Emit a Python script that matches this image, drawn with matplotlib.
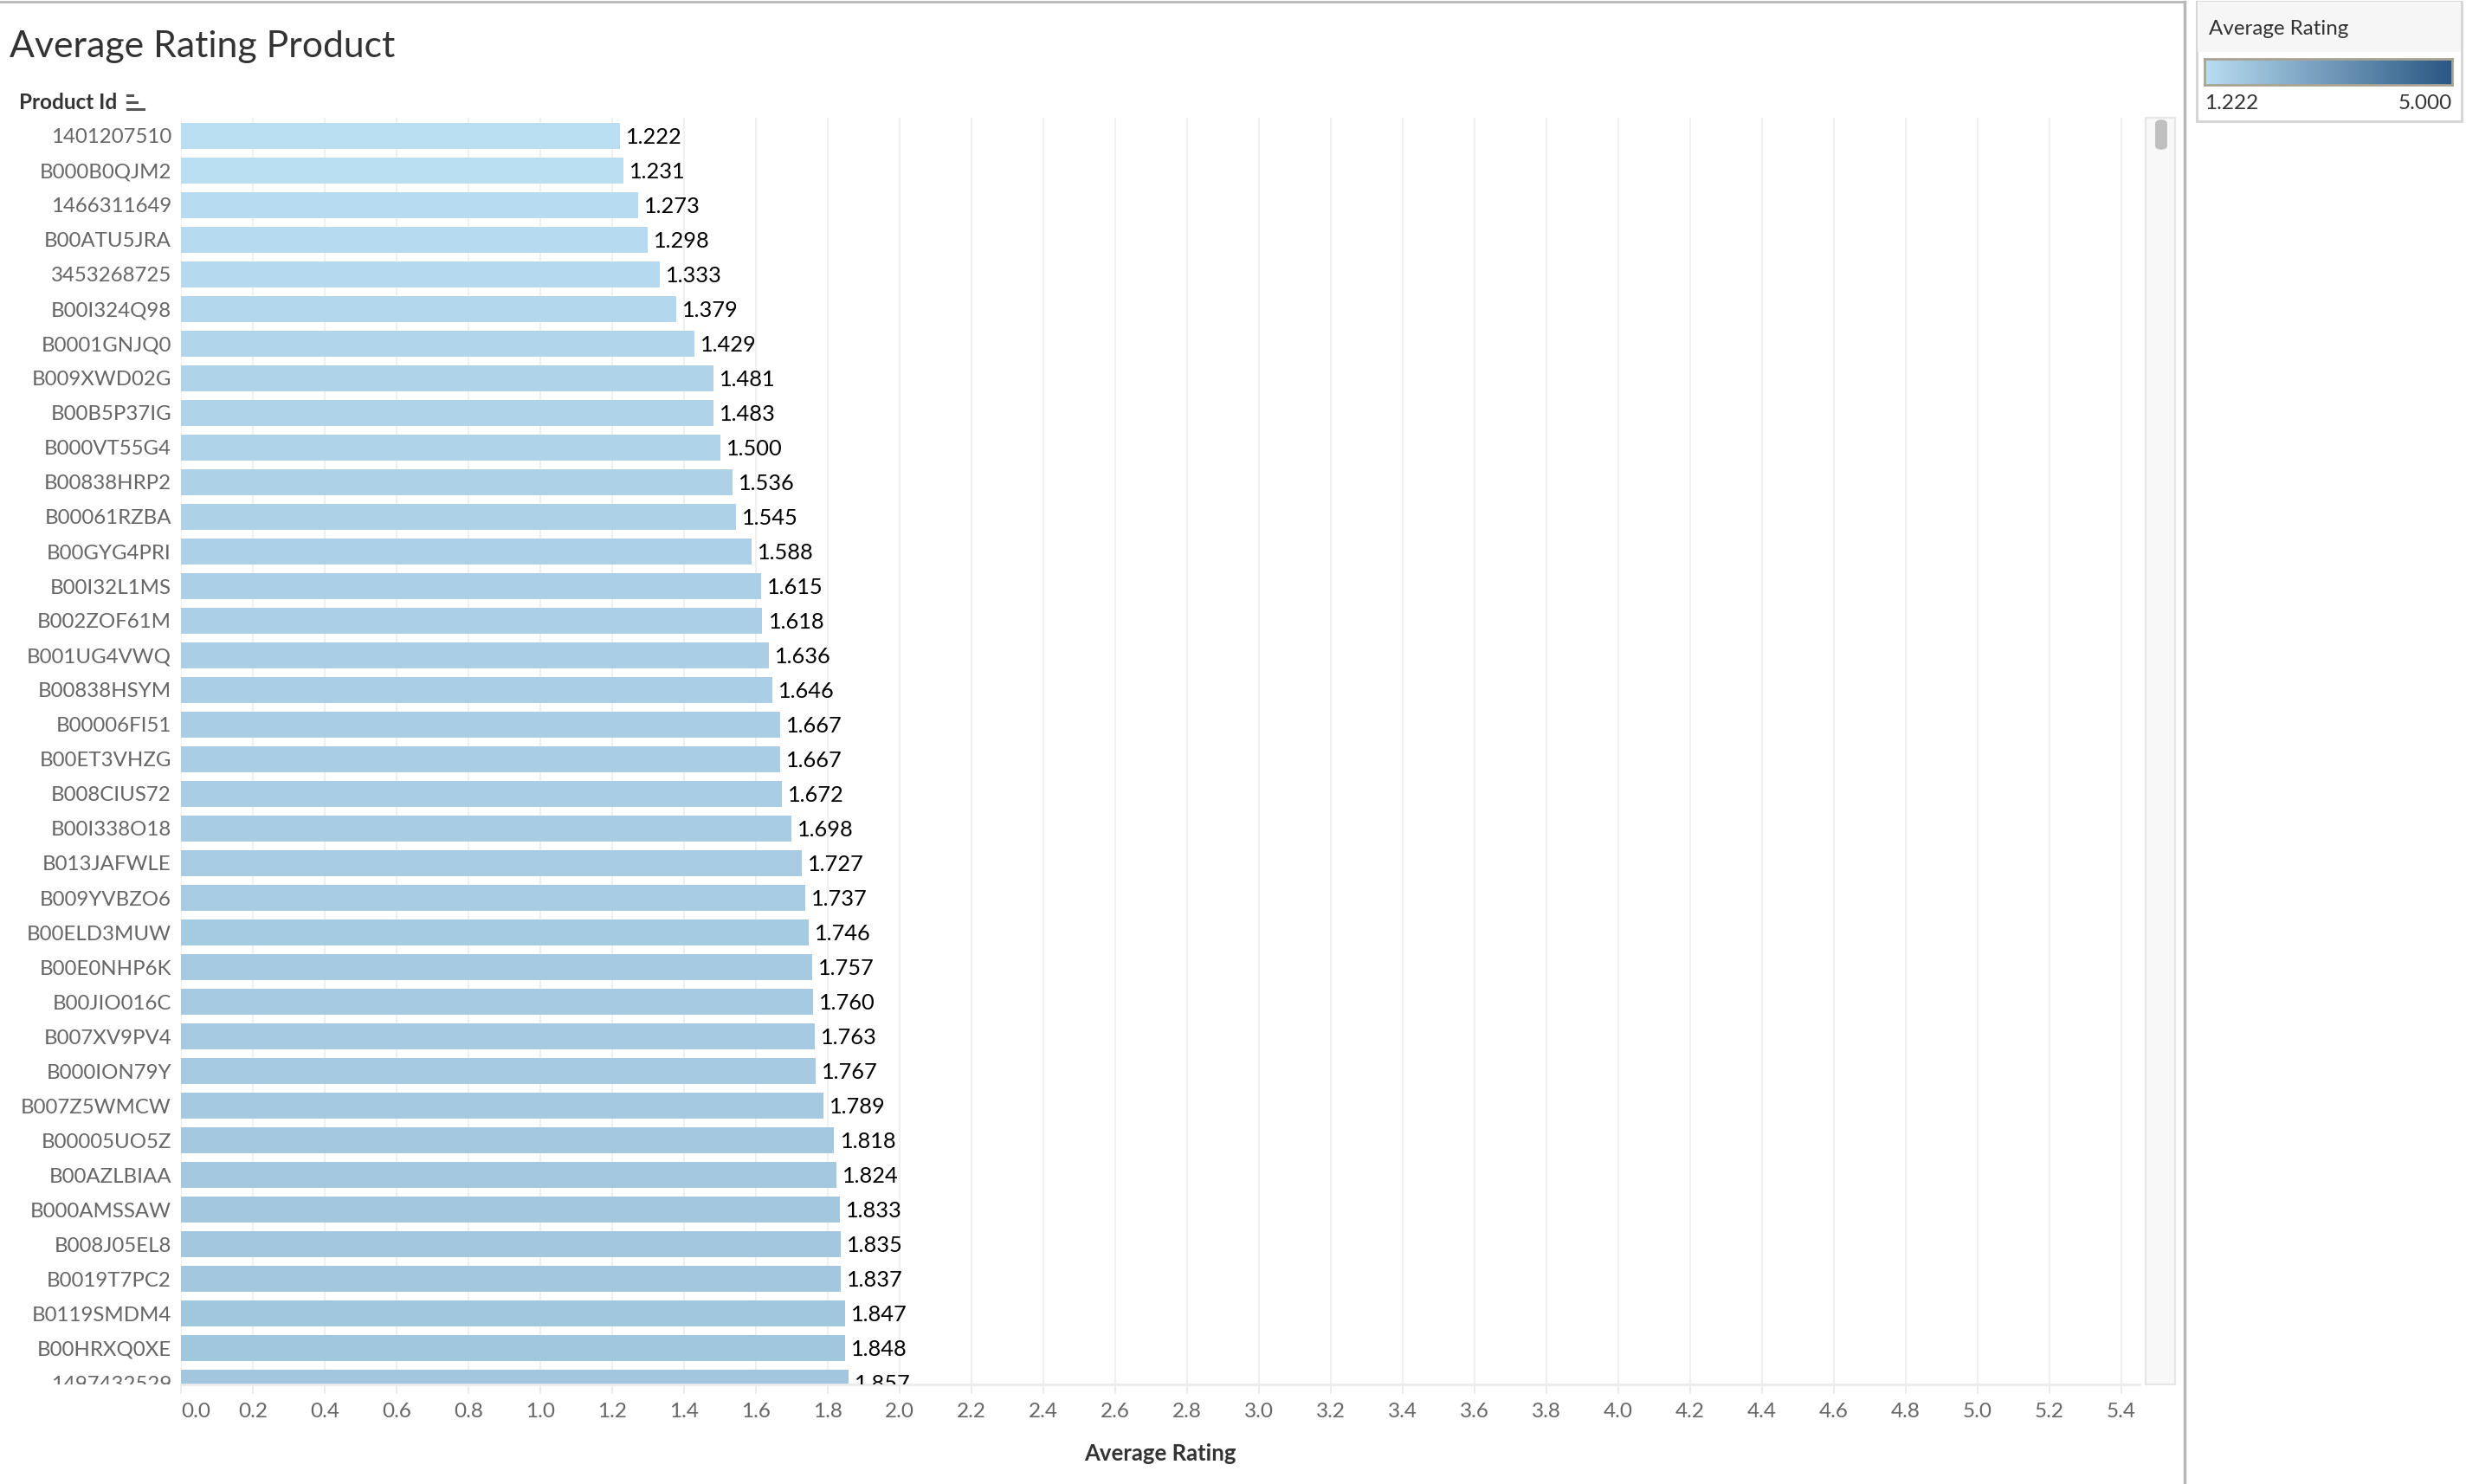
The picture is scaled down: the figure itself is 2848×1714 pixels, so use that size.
import numpy as np
import matplotlib
matplotlib.use("Agg")
import matplotlib.pyplot as plt
from matplotlib.colors import LinearSegmentedColormap, Normalize
from matplotlib.patches import Rectangle, FancyBboxPatch
from matplotlib.lines import Line2D
from matplotlib.transforms import Bbox, TransformedBbox

plt.rcParams['font.family'] = ['Lato', 'DejaVu Sans']

# data (sorted ascending by rating)
product_ids = ['1401207510', 'B000B0QJM2', '1466311649', 'B00ATU5JRA', '3453268725',
               'B00I324Q98', 'B0001GNJQ0', 'B009XWD02G', 'B00B5P37IG', 'B000VT55G4',
               'B00838HRP2', 'B00061RZBA', 'B00GYG4PRI', 'B00I32L1MS', 'B002ZOF61M',
               'B001UG4VWQ', 'B00838HSYM', 'B00006FI51', 'B00ET3VHZG', 'B008CIUS72',
               'B00I338O18', 'B013JAFWLE', 'B009YVBZO6', 'B00ELD3MUW', 'B00E0NHP6K',
               'B00JIO016C', 'B007XV9PV4', 'B000ION79Y', 'B007Z5WMCW', 'B00005UO5Z',
               'B00AZLBIAA', 'B000AMSSAW', 'B008J05EL8', 'B0019T7PC2', 'B0119SMDM4',
               'B00HRXQ0XE', '1497432529']
avg_rating = [1.222, 1.231, 1.273, 1.298, 1.333, 1.379, 1.429, 1.481, 1.483, 1.500,
              1.536, 1.545, 1.588, 1.615, 1.618, 1.636, 1.646, 1.667, 1.667, 1.672,
              1.698, 1.727, 1.737, 1.746, 1.757, 1.760, 1.763, 1.767, 1.789, 1.818,
              1.824, 1.833, 1.835, 1.837, 1.847, 1.848, 1.857]
color_min = 1.222
color_max = 5.000
x_ticks = np.arange(0, 5.41, 0.2)

W, H = 2848, 1714
fig = plt.figure(figsize=(W / 100, H / 100), dpi=100)
fig.patch.set_facecolor('white')

def fx(px):
    return px / W

def fy(py):
    return 1 - py / H

# axes placement
ax_l, ax_r, ax_t, ax_b = 209, 2471, 136, 1599
ax = fig.add_axes([fx(ax_l), fy(ax_b), fx(ax_r - ax_l), (ax_b - ax_t) / H])

cmap = LinearSegmentedColormap.from_list('tab_blue', ['#b9ddf1', '#2a5783'])
norm = Normalize(color_min, color_max)

ypos = np.arange(len(product_ids))
ax.barh(ypos, avg_rating, height=0.75, color=cmap(norm(np.array(avg_rating))), zorder=2)

for y, v in zip(ypos, avg_rating):
    ax.annotate('%.3f' % v, xy=(v, y), xytext=(7, -2), textcoords='offset pixels',
                va='center', ha='left', fontsize=18.3, color='#000000',
                annotation_clip=False, clip_on=True)

ax.set_xlim(0, (ax_r - ax_l) / 415.0)
ax.set_ylim(36.05, -0.525)

ax.set_xticks(x_ticks)
ax.set_xticklabels(['%.1f' % t for t in x_ticks])
ax.set_yticks(ypos)
ax.set_yticklabels(product_ids)
ax.tick_params(axis='x', length=8, width=1.5, color='#ececec', labelcolor='#666666',
               labelsize=17.5, pad=7)
ax.tick_params(axis='y', length=0, labelcolor='#666666', labelsize=17.3, pad=8)
ax.get_xticklabels()[0].set_ha('left')

# clip tick labels at the bottom of the plot area
clip = TransformedBbox(Bbox([[0, fy(ax_b)], [1, 1]]), fig.transFigure)
for lab in ax.get_yticklabels():
    lab.set_clip_box(clip)
    lab.set_clip_on(True)

ax.grid(axis='x', color='#f0f0f0', lw=1.5, zorder=0)
ax.set_axisbelow(True)
for s in ['top', 'right', 'left']:
    ax.spines[s].set_visible(False)
ax.spines['bottom'].set_color('#ececec')
ax.spines['bottom'].set_linewidth(2)

ax.set_xlabel('Average Rating', fontsize=18.5, fontweight='bold', color='#333333', labelpad=19)

# title and header
fig.text(fx(11), fy(54), 'Average Rating Product', fontsize=30.8, color='#333333',
         va='center', ha='left')
fig.text(fx(22), fy(119), 'Product Id', fontsize=17.5, fontweight='bold', color='#333333',
         va='center', ha='left')
for (x0, x1, yy) in [(147, 153, 110), (147, 158, 118), (147, 166, 126)]:
    fig.add_artist(Line2D([fx(x0), fx(x1)], [fy(yy), fy(yy)], color='#555555', lw=2.2))

# scrollbar
fig.add_artist(Rectangle((fx(2478), fy(ax_b)), fx(34), (ax_b - ax_t) / H,
                         facecolor='#f8f8f8', edgecolor='#e6e6e6', lw=1.5))
fig.add_artist(FancyBboxPatch((fx(2489), fy(173)), fx(14), 35 / H,
                              boxstyle='round,pad=0,rounding_size=0.003',
                              facecolor='#c0c0c0', edgecolor='none'))

# frame lines
fig.add_artist(Line2D([0, fx(2523)], [fy(1.5), fy(1.5)], color='#b8b8b8', lw=2))
fig.add_artist(Line2D([fx(2523), fx(2523)], [fy(1.5), 0], color='#b8b8b8', lw=2.5))

# colour legend
fig.add_artist(Rectangle((fx(2537), fy(140)), fx(306), 138 / H,
                         facecolor='white', edgecolor='#d4d4d4', lw=2, zorder=0.5))
fig.add_artist(Rectangle((fx(2538), fy(60)), fx(304), 58 / H,
                         facecolor='#f6f6f6', edgecolor='none', zorder=0.6))
fig.text(fx(2551), fy(33), 'Average Rating', fontsize=17.4, color='#333333',
         va='center', ha='left')
cax = fig.add_axes([fx(2546), fy(98), fx(286), 30 / H])
cax.set_zorder(5)
cax.imshow(np.linspace(0, 1, 256).reshape(1, -1), aspect='auto', cmap=cmap,
           extent=[0, 1, 0, 1])
cax.set_xticks([])
cax.set_yticks([])
for s in cax.spines.values():
    s.set_color('#a9a394')
    s.set_linewidth(2)
fig.text(fx(2546), fy(120), '%.3f' % color_min, fontsize=17.5, color='#333333',
         va='center', ha='left')
fig.text(fx(2832), fy(120), '%.3f' % color_max, fontsize=17.5, color='#333333',
         va='center', ha='right')

fig.savefig('out.png', dpi=100, facecolor='white')
